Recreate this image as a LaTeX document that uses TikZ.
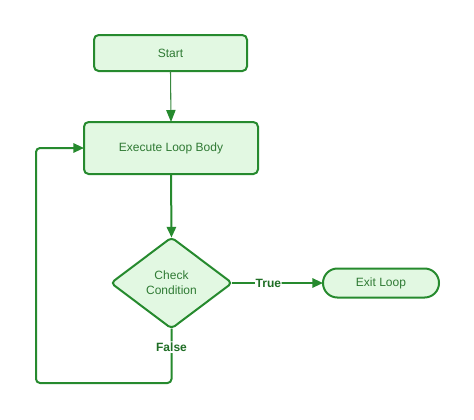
\documentclass[tikz,border=0pt]{standalone}
\usepackage{fontspec}
\setmainfont{Liberation Sans}
\usetikzlibrary{shapes.geometric,arrows.meta}
\definecolor{boxfill}{HTML}{E2F8E2}
\definecolor{boxline}{HTML}{268A2E}
\definecolor{boxtext}{HTML}{2F7A34}
\definecolor{lbltext}{HTML}{1F6E25}
\begin{document}
\begin{tikzpicture}[x=0.75pt,y=-0.75pt,
  every node/.style={font=\fontsize{9pt}{11pt}\selectfont, text=boxtext, outer sep=0pt},
  procbox/.style={draw=boxline, fill=boxfill, line width=1.5pt, rounded corners=3.5pt, inner sep=0pt},
  decbox/.style={draw=boxline, fill=boxfill, line width=1.5pt, diamond, rounded corners=3pt, inner sep=0pt, align=center},
  termbox/.style={draw=boxline, fill=boxfill, line width=1.5pt, rounded corners=10.8pt, inner sep=0pt},
  conn/.style={draw=boxline, line width=1.5pt, rounded corners=3pt, -{Triangle[length=8pt,width=7pt]}},
  thinconn/.style={draw=boxline!80!gray, line width=0.8pt, -{Triangle[length=9pt,width=7pt,color=boxline]}},
  lbl/.style={font=\bfseries\fontsize{9pt}{11pt}\selectfont, text=lbltext, fill=white, inner sep=1pt}
]
\useasboundingbox (0,0) rectangle (474,419);
\node[procbox, minimum width=114.75pt, minimum height=27pt] (start) at (170.5,53) {Start};
\node[procbox, minimum width=130.5pt, minimum height=39pt] (exec) at (171,148) {Execute Loop Body};
\node[decbox, minimum width=90.75pt, minimum height=68.25pt] (cond) at (171.5,283) {Check\\Condition};
\node[termbox, minimum width=87pt, minimum height=21.75pt] (exit) at (381,283) {Exit Loop};
\coordinate (c1) at (171.5,383);
\coordinate (c2) at (36,383);
\coordinate (c3) at (36,148);
\draw[thinconn] (start.south) -- (exec.north);
\draw[conn] (exec.south) -- (cond.north);
\draw[conn] (cond.east) -- node[lbl, pos=0.4, inner sep=0.5pt] {True} (exit.west);
\draw[conn] (cond.south) -- node[lbl, pos=0.34] {False} (c1) -- (c2) -- (c3) -- (exec.west);
\end{tikzpicture}
\end{document}
